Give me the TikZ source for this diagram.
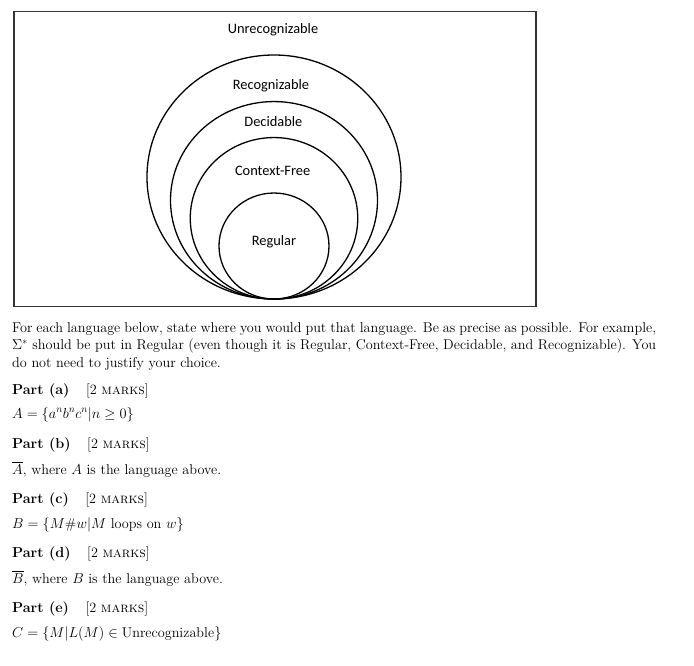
\documentclass[tikz,border=0pt]{standalone}
\usepackage{amsmath}
\usepackage{fontspec}
\usetikzlibrary{shapes.geometric}
\newfontfamily\calibri{Carlito}
\tikzset{
  oval/.style={draw, ellipse, line width=1.3pt, inner sep=0pt},
  setlabel/.style={font=\calibri\fontsize{14.4}{16}\selectfont, anchor=base, inner sep=0pt},
  bodyline/.style={anchor=base west, inner sep=0pt, font=\fontsize{14.2}{17.4}\selectfont},
  parthead/.style={anchor=base west, inner sep=0pt, font=\fontsize{14.4}{17.4}\selectfont\bfseries},
}
\newcommand{\twomarks}{\hspace{16.5pt}{\mdseries\fontsize{14.2}{17.4}\selectfont[2 \textsc{marks}]}}
\begin{document}
\begin{tikzpicture}[x=1pt,y=-1pt]
\useasboundingbox (0,0) rectangle (694,665);
% frame
\node[draw=black!80, line width=1.6pt, minimum width=522pt, minimum height=295pt, inner sep=0pt, anchor=north west] (frame) at (13,10.5) {};
% sets
\node[oval, minimum width=254pt, minimum height=244pt] (rec) at (274,177) {};
\node[oval, minimum width=207pt, minimum height=197.5pt] (dec) at (274,200.3) {};
\node[oval, minimum width=167.5pt, minimum height=161.5pt] (cf) at (274,218.3) {};
\node[oval, minimum width=110pt, minimum height=106pt] (reg) at (274,246) {};
% labels
\node[setlabel] (lunrec) at (273,33) {Unrecognizable};
\node[setlabel] (lrec) at (271,89.3) {Recognizable};
\node[setlabel] (ldec) at (273.4,126) {Decidable};
\node[setlabel] (lcf) at (272.6,175) {Context-Free};
\node[setlabel] (lreg) at (274,245.7) {Regular};
% text
\node[bodyline] (t1) at (12,332.3) {\hbox to 644pt{For each language below, state where you would put that language. Be as precise as possible. For example,}};
\node[bodyline] (t2) at (12,349.7) {\hbox to 644pt{$\Sigma^*$ should be put in Regular (even though it is Regular, Context-Free, Decidable, and Recognizable). You}};
\node[bodyline] (t3) at (12,367) {do not need to justify your choice.};
\node[parthead] (pa) at (12,394) {Part (a)\twomarks};
\node[bodyline] (la) at (12,418) {$A=\{a^nb^nc^n|n\geq 0\}$};
\node[parthead] (pb) at (12,448.5) {Part (b)\twomarks};
\node[bodyline] (lb) at (12,474) {$\overline{A}$, where $A$ is the language above.};
\node[parthead] (pc) at (12,503) {Part (c)\twomarks};
\node[bodyline] (lc) at (12,528) {$B=\{M\#w|M \text{ loops on } w\}$};
\node[parthead] (pd) at (12,557.5) {Part (d)\twomarks};
\node[bodyline] (ld) at (12,583) {$\overline{B}$, where $B$ is the language above.};
\node[parthead] (pe) at (12,612) {Part (e)\twomarks};
\node[bodyline] (le) at (12,637) {$C=\{M|L(M)\in \text{Unrecognizable}\}$};
\end{tikzpicture}
\end{document}
